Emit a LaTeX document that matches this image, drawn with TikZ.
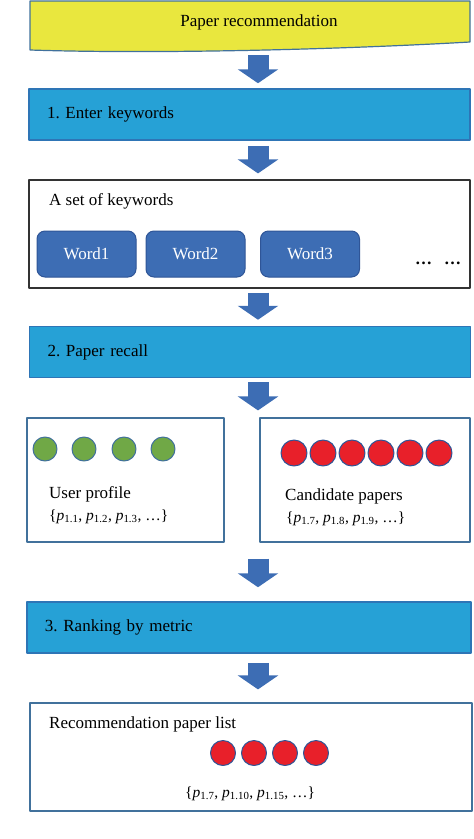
\documentclass[tikz,border=0pt]{standalone}
\usepackage{fontspec}
\setmainfont{Liberation Serif}
\usetikzlibrary{arrows.meta}
\definecolor{stepblue}{RGB}{38,161,214}
\definecolor{stepedge}{RGB}{46,117,182}
\definecolor{wordblue}{RGB}{61,109,180}
\definecolor{wordedge}{RGB}{47,85,151}
\definecolor{bannery}{RGB}{233,231,62}
\definecolor{dotgreen}{RGB}{112,168,70}
\definecolor{dotred}{RGB}{232,32,42}
\definecolor{boxedge}{RGB}{65,113,156}
\newcommand{\pv}[1]{\textit{p}\textsubscript{#1}}
\frenchspacing
\begin{document}
\begin{tikzpicture}[x=1pt,y=-1pt,line join=round,font=\fontsize{17}{20}\selectfont,
	stepbox/.style={draw=stepedge,line width=1.5pt,fill=stepblue,text width=405pt,inner xsep=18pt,inner ysep=0pt,minimum height=51pt,align=left},
	panel/.style={draw=boxedge,line width=1.2pt,fill=white,inner sep=0pt},
	wordbox/.style={draw=wordedge,line width=1pt,fill=wordblue,rounded corners=8pt,minimum width=99pt,minimum height=46pt,text=white,inner sep=0pt},
	gdot/.style={circle,draw=boxedge,line width=1pt,fill=dotgreen,minimum size=24pt,inner sep=0pt},
	rdot/.style={circle,draw=wordedge,line width=1pt,fill=dotred,minimum size=26pt,inner sep=0pt},
	fat/.style={draw=wordblue,line width=21pt,line cap=butt,-{Triangle[length=14pt,width=40pt]}},
	lbl/.style={anchor=base west,inner sep=0pt},
	setlbl/.style={lbl,font=\fontsize{15.5}{18}\selectfont}]
	\useasboundingbox (0,0) rectangle (474,839);
	% title banner
	\draw[draw=boxedge,line width=1.2pt,fill=bannery] (30,1) -- (470,1) -- (470,42) .. controls (330,50) and (150,54) .. (30,50) -- cycle;
	\node (title) at (259,22) {Paper recommendation};
	\coordinate (tb) at (258,50);
	\node[stepbox] (s1) at (249.5,114.5) {1. Enter keywords};
	% keywords
	\node[panel,draw=black!80,minimum width=441pt,minimum height=108pt] (kw) at (249.5,234) {};
	\node[lbl] (kwt) at (49,205) {A set of keywords};
	\foreach \x/\w in {86.5/1,195.5/2,310/3}
		\node[wordbox] (w\w) at (\x,254) {Word\w};
	\node[lbl] (more) at (415,264) {\textbf{\dots\hspace{12pt}\dots}};
	\node[stepbox] (s2) at (250,352) {2. Paper recall};
	% profile and candidates
	\node[panel,minimum width=197pt,minimum height=124pt] (up) at (125.5,480) {};
	\node[panel,minimum width=210pt,minimum height=124pt] (cand) at (365,480) {};
	\foreach \x [count=\i] in {45,84,124,163}
		\node[gdot] (g\i) at (\x,449) {};
	\foreach \x [count=\i] in {294,323,352,381,410,439}
		\node[rdot] (c\i) at (\x,453) {};
	\node[lbl] (upt) at (49,498) {User profile};
	\node[setlbl] (ups) at (49,520) {\{\pv{1.1}, \pv{1.2}, \pv{1.3}, \dots\}};
	\node[lbl] (candt) at (285,500) {Candidate papers};
	\node[setlbl] (cands) at (286,522) {\{\pv{1.7}, \pv{1.8}, \pv{1.9}, \dots\}};
	\node[stepbox,text width=408pt] (s3) at (249,627.5) {3. Ranking by metric};
	% result
	\node[panel,minimum width=442pt,minimum height=108pt] (rec) at (251,757) {};
	\node[lbl] (rect) at (49,728) {Recommendation paper list};
	\foreach \x [count=\i] in {223,254,285,316}
		\node[rdot,minimum size=25pt] (r\i) at (\x,753) {};
	\node[setlbl] (recs) at (185,797) {\{\pv{1.7}, \pv{1.10}, \pv{1.15}, \dots\}};
	% arrows
	\draw[fat,shorten <=5pt,shorten >=5pt] (tb) -- (s1.north -| tb);
	\draw[fat,shorten <=5pt,shorten >=6pt] (s1.south -| tb) -- (kw.north -| tb);
	\draw[fat,shorten <=4pt,shorten >=6pt] (kw.south -| tb) -- (s2.north -| tb);
	\draw[fat,shorten <=4pt,shorten >=7pt] (s2.south -| tb) -- (up.north -| tb);
	\draw[fat,shorten <=16pt,shorten >=14pt] (up.south -| tb) -- (s3.north -| tb);
	\draw[fat,shorten <=9pt,shorten >=13pt] (s3.south -| tb) -- (rec.north -| tb);
\end{tikzpicture}
\end{document}
